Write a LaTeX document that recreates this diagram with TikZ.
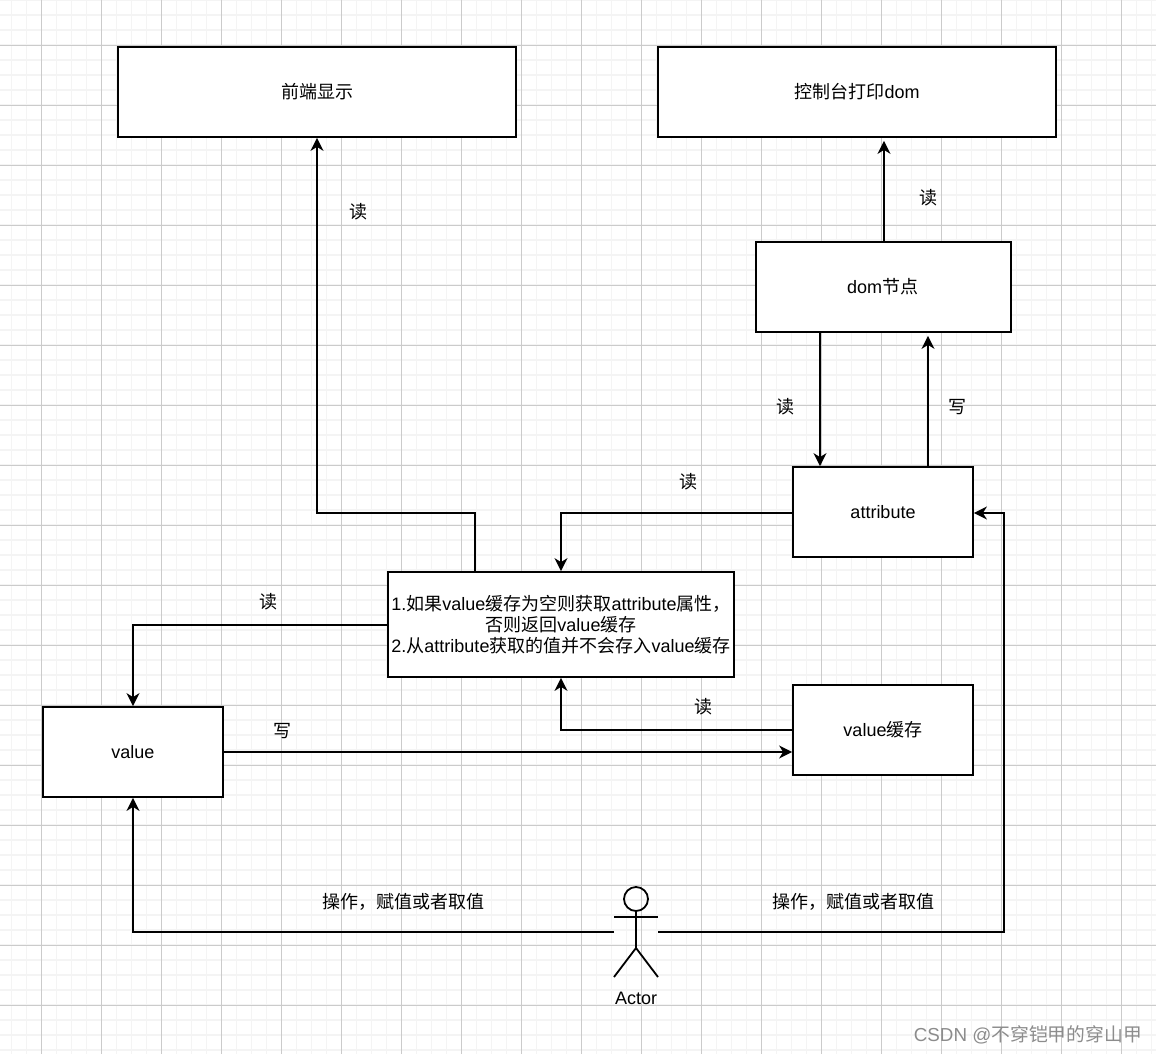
\documentclass[tikz,border=0pt]{standalone}
\usepackage{fontspec}
\setmainfont{Liberation Sans}
\newfontfamily\cjkf{Noto Sans CJK SC}
\newcommand{\zh}[1]{{\cjkf #1}}
\usetikzlibrary{arrows.meta,calc}
\definecolor{minorgrid}{HTML}{F4F4F4}
\definecolor{majorgrid}{HTML}{CBCBCB}
\tikzset{
  box/.style={draw=black,line width=1.8pt,fill=white,minimum width=#1,inner sep=0pt,align=center,font=\fontsize{18}{21}\selectfont},
  conn/.style={draw=black,line width=1.8pt,-{Stealth[length=13pt,width=13pt,inset=4pt]}},
  lbl/.style={font=\fontsize{18}{21}\selectfont,inner sep=0pt},
  fig/.style={draw=black,line width=1.8pt}
}
\begin{document}
\begin{tikzpicture}[x=1pt,y=-1pt]
\useasboundingbox (0,0) rectangle (1156,1054);
\fill[white] (0,0) rectangle (1156,1054);
\foreach \k in {0,...,77} {\draw[minorgrid,line width=1.5pt] ({11.5+15*\k},0) -- ({11.5+15*\k},1054);}
\foreach \k in {0,...,70} {\draw[minorgrid,line width=1.5pt] (0,{15*\k}) -- (1156,{15*\k});}
\foreach \k in {0,...,18} {\draw[majorgrid,line width=0.9pt] ({41.5+60*\k},0) -- ({41.5+60*\k},1054);}
\foreach \k in {0,...,17} {\draw[majorgrid,line width=0.9pt] (0,{45+60*\k}) -- (1156,{45+60*\k});}

\node[box=398pt,minimum height=90pt] (front) at (317,92) {\zh{前端显示}};
\node[box=398pt,minimum height=90pt] (console) at (857,92) {\zh{控制台打印}dom};
\node[box=255pt,minimum height=90pt] (dom) at (883.5,287) {\hspace*{-2pt}dom\zh{节点}};
\node[box=180pt,minimum height=90pt] (attr) at (883,512) {attribute};
\node[box=346pt,minimum height=105pt] (mid) at (561,624.5) {1.\zh{如果}value\zh{缓存为空则获取}attribute\zh{属性，}\\\zh{否则返回}value\zh{缓存}\\2.\zh{从}attribute\zh{获取的值并不会存入}value\zh{缓存}};
\node[box=180pt,minimum height=90pt] (cache) at (883,730) {value\zh{缓存}};
\node[box=180pt,minimum height=90pt] (val) at (133,752) {value};

% actor
\node[draw=black,line width=1.8pt,circle,minimum size=24pt,inner sep=0pt] (head) at (636,899) {};
\coordinate (hip) at (636,948);
\coordinate (armL) at (614,917);
\coordinate (armR) at (658,917);
\coordinate (legL) at (614,977);
\coordinate (legR) at (658,977);
\coordinate (actL) at (614,932);
\coordinate (actR) at (658,932);
\draw[fig] (head.south) -- (hip);
\draw[fig] (armL) -- (armR);
\draw[fig] (legL) -- (hip) -- (legR);
\node[lbl] (actorlabel) at (636,998) {Actor};

% connectors
\draw[conn] ([xshift=-86pt]mid.north) |- ($(front.south)+(0,375)$) -- (front.south);
\draw[conn] ([xshift=0.5pt]dom.north) -- ([xshift=27pt,yshift=-3pt]console.south);
\draw[conn] ([xshift=-63.5pt]dom.south) -- ([xshift=-63pt]attr.north);
\draw[conn] ([xshift=45pt]attr.north) -- ([xshift=44.5pt,yshift=-3pt]dom.south);
\draw[conn] ([yshift=-1pt]attr.west) -| (mid.north);
\draw[conn] ([yshift=-0.5pt]mid.west) -| (val.north);
\draw[conn] (val.east) -- ([yshift=-22pt]cache.west);
\draw[conn] (cache.west) -| (mid.south);
\draw[conn] (actL) -| (val.south);
\draw[conn] (actR) -| ($(attr.east)+(30,1)$) -- ([yshift=-1pt]attr.east);

% labels
\node[lbl] (l1) at (358,212) {\zh{读}};
\node[lbl] (l2) at (928,197.5) {\zh{读}};
\node[lbl] (l3) at (785,407) {\zh{读}};
\node[lbl] (l4) at (957,407) {\zh{写}};
\node[lbl] (l5) at (688,482) {\zh{读}};
\node[lbl] (l6) at (268,602) {\zh{读}};
\node[lbl] (l7) at (282,731) {\zh{写}};
\node[lbl] (l8) at (703,707) {\zh{读}};
\node[lbl] (l9) at (403,902) {\zh{操作，赋值或者取值}};
\node[lbl] (l10) at (853,902) {\zh{操作，赋值或者取值}};
\node[font=\fontsize{18.8}{23}\selectfont,text=black!45,inner sep=0pt,anchor=east] (mark) at (1142,1035) {CSDN @\zh{不穿铠甲的穿山甲}};
\end{tikzpicture}
\end{document}
